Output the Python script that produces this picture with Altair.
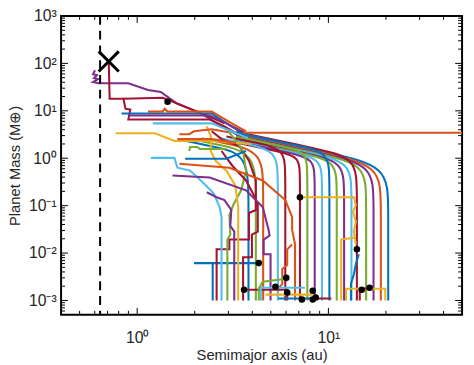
import altair as alt
import pandas as pd

# ---------------- smooth growth tracks (a in au, M in Earth masses) ----------------
s395_a = [20.55, 20.55, 20.55, 10.12, 4.174, 3.296]
s395_m = [0.001, 0.0935, 0.695, 1.267, 2.69, 3.29]
s388_a = [18.8, 18.8, 18.8, 9.71, 4.174, 3.296]
s388_m = [0.001, 0.1054, 0.712, 1.252, 2.56, 3.13]
s380_a = [17.22, 17.22, 17.22, 9.32, 4.174, 3.296]
s380_m = [0.001, 0.1193, 0.733, 1.234, 2.443, 2.987]
s373_a = [15.75, 15.75, 15.75, 8.94, 4.174, 3.296]
s373_m = [0.001, 0.1351, 0.754, 1.222, 2.329, 2.847]
s363_a = [14.09, 14.09, 14.09, 8.38, 4.174, 3.296]
s363_m = [0.001, 0.2033, 1.031, 1.636, 2.958, 3.614]
s358_a = [13.2, 13.2, 13.2, 8.04, 4.174, 3.296]
s358_m = [0.001, 0.1809, 0.834, 1.27, 2.221, 2.714]
s350_a = [12.08, 12.08, 12.08, 7.53, 4.174, 3.296]
s350_m = [0.001, 0.2048, 0.858, 1.282, 2.117, 2.587]
s343_a = [11.06, 11.06, 11.06, 7.23, 4.174, 3.296]
s343_m = [0.001, 0.2318, 0.883, 1.264, 2.018, 2.466]
s335_a = [10.12, 10.12, 10.12, 6.77, 4.174, 3.296]
s335_m = [0.001, 0.3837, 1.329, 1.87, 2.82, 3.445]
s328_a = [9.26, 9.26, 9.26, 6.35, 4.174, 3.296]
s328_m = [0.001, 0.3103, 0.976, 1.345, 1.924, 2.352]
s320_a = [8.48, 8.48, 8.48, 5.95, 4.174, 3.296]
s320_m = [0.001, 0.3513, 1.005, 1.358, 1.834, 2.242]
s313_a = [7.76, 7.76, 7.76, 5.575, 4.174, 3.296]
s313_m = [0.001, 0.4815, 1.377, 1.825, 2.329, 2.847]
s305_a = [7.10, 7.10, 7.10, 5.225, 4.174, 3.296]
s305_m = [0.001, 0.4281, 1.113, 1.445, 1.749, 2.137]
s290_a = [5.95, 5.95, 5.95, 4.174, 3.497, 2.929]
s290_m = [0.001, 0.4747, 1.567, 2.117, 2.46, 2.861]
s283_a = [5.44, 5.44, 5.44, 3.601, 3.107, 2.665]
s283_m = [0.001, 0.3496, 1.465, 2.077, 2.357, 2.689]
s268_a = [4.56, 4.56, 4.56, 2.843, 2.454, 2.18]
s268_m = [0.001, 0.2077, 1.404, 2.097, 2.38, 2.63]
s260_a = [4.174, 4.174, 4.174, 2.603, 2.18, 1.937]
s260_m = [0.001, 0.153, 1.313, 1.961, 2.28, 2.52]
s253_a = [3.82, 3.82, 3.82, 2.527, 2.055, 1.826]
s253_m = [0.001, 0.1127, 1.228, 1.741, 2.077, 2.296]

# ---------------- irregular tracks ----------------
i_blue216_a = [2.483, 2.483, 1.984, 4.323]
i_blue216_m = [0.001, 0.00614, 0.00614, 0.00614]
i_red220_a = [2.603, 2.603, 3.034, 3.034, 3.842, 3.842, 4.174, 4.174, 3.842, 3.415, 2.761, 2.454]
i_red220_m = [0.001, 0.012, 0.012, 0.0193, 0.0193, 0.0702, 0.081, 0.34, 0.884, 1.81, 2.526, 3.70]
i_lb225_a = [2.761, 2.761, 2.696, 2.512, 2.233, 1.892, 1.623, 1.566, 1.18]
i_lb225_m = [0.001, 0.058, 0.0935, 0.1826, 0.2943, 0.548, 0.632, 1.019, 1.019]
i_green231_a = [2.963, 2.963, 3.07, 3.034, 3.18, 3.497, 3.709, 3.58, 3.296, 2.999]
i_green231_m = [0.001, 0.0193, 0.0246, 0.0638, 0.103, 0.211, 0.548, 1.42, 2.30, 3.70]
i_purple238_a = [3.219, 3.219, 3.07, 3.107, 2.86, 2.603, 2.312]
i_purple238_m = [0.001, 0.0283, 0.0377, 0.081, 0.131, 0.1508, 0.1915]
i_yellow242_a = [3.375, 3.375, 3.258, 2.929, 2.572, 2.425, 2.425, 2.312]
i_yellow242_m = [0.001, 0.0935, 0.268, 0.548, 0.884, 1.42, 2.91, 4.70]
i_red247_a = [3.58, 3.58, 3.981, 3.981, 4.272, 4.272, 4.076, 3.709, 3.145, 2.761]
i_red247_m = [0.001, 0.00818, 0.00818, 0.0246, 0.0283, 0.103, 0.166, 0.34, 0.695, 1.42]
i_orange300_a = [6.693, 6.693, 6.46, 6.46, 5.95, 4.533, 3.034, 1.662]
i_orange300_m = [0.001, 0.0152, 0.0312, 0.058, 0.131, 0.34, 0.632, 0.765]
i_orangestep_a = [5.476, 5.74, 5.74, 6.09, 6.09, 6.46]
i_orangestep_m = [0.00177, 0.00225, 0.00461, 0.00558, 0.012, 0.0152]
i_purple275_a = [4.983, 4.983, 4.587, 4.587, 4.924, 4.866, 4.533, 3.709, 2.396, 1.53]
i_purple275_m = [0.001, 0.00944, 0.00944, 0.0193, 0.0234, 0.0312, 0.0935, 0.211, 0.392, 0.432]
i_yellow305_a = [7.10, 13.6, 13.92, 13.44, 13.92, 13.6, 13.92]
i_yellow305_m = [0.1508, 0.1508, 0.103, 0.0737, 0.0457, 0.0283, 0.0152]
i_blue357_a = [13.12, 13.12, 13.6, 13.92, 14.42]
i_blue357_m = [0.001, 0.00225, 0.00363, 0.00586, 0.00944]
i_yellow347_a = [11.66, 11.66, 13.92]
i_yellow347_m = [0.001, 0.0193, 0.02127]
i_yellow352_a = [12.37, 12.37, 19.84, 19.84]
i_yellow352_m = [0.001, 0.00177, 0.00177, 0.001]
i_red366_a = [14.59, 14.59, 16.42]
i_red366_m = [0.001, 0.00169, 0.00186]
i_red248_a = [3.622, 6.09, 6.09]
i_red248_m = [0.00169, 0.00169, 0.001]
i_lb265_a = [4.429, 4.429, 7.532]
i_lb265_m = [0.001, 0.00186, 0.00186]
i_blue283_a = [5.476, 8.577]
i_blue283_m = [0.0011, 0.0011]
i_red320_a = [8.478, 10.36]
i_red320_m = [0.0011, 0.0011]
i_yellow270_a = [4.697, 8.28]
i_yellow270_m = [0.00133, 0.00133]
i_green263_a = [4.323, 4.323, 4.533, 6.02]
i_green263_m = [0.001, 0.00177, 0.00248, 0.00286]

# ---------------- upper (massive) tracks ----------------
u_purple_a = [0.602, 0.588, 0.616, 0.595, 0.624, 0.588, 0.631, 0.899, 1.139, 1.328, 1.442, 1.623, 2.055, 2.396, 2.761, 3.296]
u_purple_m = [71.6, 59.1, 56.4, 48.8, 46.6, 40.4, 38.0, 38.0, 27.5, 25.0, 19.7, 14.1, 9.62, 6.89, 4.70, 3.21]
u_red_a = [0.71, 0.718, 0.848, 0.868, 0.921, 0.899, 2.396, 2.86, 3.497]
u_red_m = [110, 17.9, 17.9, 11.1, 10.6, 6.57, 6.57, 4.70, 2.91]
u_red2_a = [0.848, 1.359, 1.585, 1.937, 2.396, 2.86]
u_red2_m = [17.9, 18.8, 14.8, 10.6, 7.58, 5.43]
u_blue_a = [0.828, 2.454, 3.107, 3.709]
u_blue_m = [8.75, 8.75, 4.70, 3.06]
u_purple2_a = [0.899, 2.396, 2.929, 3.709]
u_purple2_m = [7.95, 7.95, 5.43, 3.365]
u_orange1_a = [1.139, 1.359, 1.392, 1.442, 2.454, 3.0, 3.709]
u_orange1_m = [9.62, 9.62, 11.1, 9.62, 9.62, 5.97, 3.70]
u_lb_a = [1.208, 2.454, 3.107, 3.797]
u_lb_m = [5.43, 5.43, 3.70, 2.65]
u_yellow_a = [0.771, 1.237, 1.566, 2.512, 3.935]
u_yellow_m = [3.365, 3.365, 2.30, 2.30, 1.99]
u_orange2_a = [1.662, 1.87, 1.984, 2.454, 2.999]
u_orange2_m = [3.21, 3.21, 3.70, 4.07, 3.53]
u_orange3_a = [1.623, 2.454, 3.296]
u_orange3_m = [2.526, 2.526, 2.086]
u_green_a = [1.87, 1.892, 2.055, 2.129, 2.929]
u_green_m = [1.42, 1.724, 1.724, 1.567, 1.567]
u_blue2_a = [1.784, 2.929, 3.709]
u_blue2_m = [0.972, 0.972, 1.42]
u_orangelong_a = [3.58, 50]
u_orangelong_m = [3.44, 3.44]

# ---------------- markers ----------------
dots_a = [1.442, 7.10, 14.09, 4.323, 3.622, 5.286, 6.02, 6.09, 7.27, 8.28, 8.28, 8.577, 14.94, 16.42]
dots_m = [15.5, 0.1508, 0.012, 0.00614, 0.00169, 0.00195, 0.003, 0.001466, 0.00105, 0.00161, 0.00105, 0.001154, 0.00169, 0.00186]
cross_a = [0.71]
cross_m = [110]
dashed_a = [0.64]

x_major = [1, 10]
y_major = [1e-3, 1e-2, 1e-1, 1, 10, 100, 1000]
x_minor = [0.5, 0.6, 0.7, 0.8, 0.9, 2, 3, 4, 5, 6, 7, 8, 9, 20, 30, 40]
y_minor = [6e-4, 7e-4, 8e-4, 9e-4] + [k * 10.0 ** e for e in range(-3, 3) for k in range(2, 10)]

# ---------------- styles ----------------
BLUE, ORANGE, YELLOW, PURPLE = "#0072BD", "#D95319", "#EDB120", "#7E2F8E"
GREEN, LBLUE, RED = "#77AC30", "#4DBEEE", "#A2142F"

smooth = {
    "s395": (s395_a, s395_m, BLUE), "s388": (s388_a, s388_m, ORANGE),
    "s380": (s380_a, s380_m, PURPLE), "s373": (s373_a, s373_m, GREEN),
    "s363": (s363_a, s363_m, RED), "s358": (s358_a, s358_m, LBLUE),
    "s350": (s350_a, s350_m, PURPLE), "s343": (s343_a, s343_m, GREEN),
    "s335": (s335_a, s335_m, BLUE), "s328": (s328_a, s328_m, LBLUE),
    "s320": (s320_a, s320_m, PURPLE), "s313": (s313_a, s313_m, GREEN),
    "s305": (s305_a, s305_m, RED), "s290": (s290_a, s290_m, RED),
    "s283": (s283_a, s283_m, LBLUE), "s268": (s268_a, s268_m, ORANGE),
    "s260": (s260_a, s260_m, GREEN), "s253": (s253_a, s253_m, BLUE),
}
linear = {
    "i_blue216": (i_blue216_a, i_blue216_m, BLUE), "i_red220": (i_red220_a, i_red220_m, RED),
    "i_lb225": (i_lb225_a, i_lb225_m, LBLUE), "i_green231": (i_green231_a, i_green231_m, GREEN),
    "i_purple238": (i_purple238_a, i_purple238_m, PURPLE), "i_yellow242": (i_yellow242_a, i_yellow242_m, YELLOW),
    "i_red247": (i_red247_a, i_red247_m, RED), "i_orange300": (i_orange300_a, i_orange300_m, ORANGE),
    "i_orangestep": (i_orangestep_a, i_orangestep_m, ORANGE), "i_purple275": (i_purple275_a, i_purple275_m, PURPLE),
    "i_yellow305": (i_yellow305_a, i_yellow305_m, YELLOW), "i_blue357": (i_blue357_a, i_blue357_m, BLUE),
    "i_yellow347": (i_yellow347_a, i_yellow347_m, YELLOW), "i_yellow352": (i_yellow352_a, i_yellow352_m, YELLOW),
    "i_red366": (i_red366_a, i_red366_m, RED), "i_red248": (i_red248_a, i_red248_m, RED),
    "i_lb265": (i_lb265_a, i_lb265_m, LBLUE), "i_blue283": (i_blue283_a, i_blue283_m, BLUE),
    "i_red320": (i_red320_a, i_red320_m, RED), "i_yellow270": (i_yellow270_a, i_yellow270_m, YELLOW),
    "i_green263": (i_green263_a, i_green263_m, GREEN),
    "u_purple": (u_purple_a, u_purple_m, PURPLE), "u_red": (u_red_a, u_red_m, RED),
    "u_red2": (u_red2_a, u_red2_m, RED), "u_blue": (u_blue_a, u_blue_m, BLUE),
    "u_purple2": (u_purple2_a, u_purple2_m, PURPLE), "u_orange1": (u_orange1_a, u_orange1_m, ORANGE),
    "u_lb": (u_lb_a, u_lb_m, LBLUE), "u_yellow": (u_yellow_a, u_yellow_m, YELLOW),
    "u_orange2": (u_orange2_a, u_orange2_m, ORANGE), "u_orange3": (u_orange3_a, u_orange3_m, ORANGE),
    "u_green": (u_green_a, u_green_m, GREEN), "u_blue2": (u_blue2_a, u_blue2_m, BLUE),
    "u_orangelong": (u_orangelong_a, u_orangelong_m, ORANGE),
}


def frame(tracks):
    rows = []
    for name, (aa, mm, _) in tracks.items():
        for i, (x, y) in enumerate(zip(aa, mm)):
            rows.append({"track": name, "order": i, "a": x, "m": y})
    return pd.DataFrame(rows)


df_smooth = frame(smooth)
df_linear = frame(linear)
all_tracks = {**smooth, **linear}
color_scale = alt.Scale(domain=list(all_tracks.keys()), range=[v[2] for v in all_tracks.values()])

W, H = 408, 304
FONT = "Liberation Sans"
TXT = "#262626"
XT = "Semimajor axis (au)"
YT = "Planet Mass (M⊕)"
xs = alt.Scale(type="log", domain=[0.4, 50], nice=False)
ys = alt.Scale(type="log", domain=[5e-4, 1e3], nice=False)

sup = ("'10' + replace(replace(replace(replace(replace('' + round(log(datum.value)/LN10),"
       " '-', '⁻'), '0', '⁰'), '1', '¹'), '2', '²'), '3', '³')")

x_axis = alt.Axis(values=x_major, labelExpr=sup, ticks=False, domain=False, grid=False,
                  labelPadding=15, titlePadding=3, labelFontSize=16, titleFontSize=15,
                  labelFont=FONT, titleFont=FONT, labelColor=TXT, titleColor=TXT, titleFontWeight="normal")
y_axis = alt.Axis(values=y_major, labelExpr=sup, ticks=False, domain=False, grid=False,
                  labelPadding=5, titlePadding=6, labelFontSize=16, titleFontSize=15,
                  labelFont=FONT, titleFont=FONT, labelColor=TXT, titleColor=TXT, titleFontWeight="normal")


def X(field):
    return alt.X(field, scale=xs, axis=x_axis, title=XT)


def Y(field):
    return alt.Y(field, scale=ys, axis=y_axis, title=YT)


smooth_layer = alt.Chart(df_smooth).mark_line(interpolate="basis", strokeWidth=2.1, clip=True).encode(
    x=X("a:Q"), y=Y("m:Q"),
    color=alt.Color("track:N", scale=color_scale, legend=None),
    order="order:Q",
)
linear_layer = alt.Chart(df_linear).mark_line(strokeWidth=2.1, clip=True).encode(
    x=X("a:Q"), y=Y("m:Q"),
    color=alt.Color("track:N", scale=color_scale, legend=None),
    order="order:Q",
)
dashed = alt.Chart(pd.DataFrame({"a": dashed_a})).mark_rule(
    color="black", strokeWidth=2, strokeDash=[9, 6]).encode(x=X("a:Q"))
dots = alt.Chart(pd.DataFrame({"a": dots_a, "m": dots_m})).mark_circle(
    color="black", size=45, opacity=1).encode(x=X("a:Q"), y=Y("m:Q"))
cross = alt.Chart(pd.DataFrame({"a": cross_a, "m": cross_m})).mark_point(
    shape="M-1,-1L1,1M-1,1L1,-1", size=420, strokeWidth=3, color="black", filled=False, opacity=1).encode(
    x=X("a:Q"), y=Y("m:Q"))


def yticks(vals, length):
    d = pd.DataFrame({"m": vals})
    left = alt.Chart(d).mark_rule(color="black", strokeWidth=1).encode(
        y=Y("m:Q"), x=alt.value(0), x2=alt.value(length))
    right = alt.Chart(d).mark_rule(color="black", strokeWidth=1).encode(
        y=Y("m:Q"), x=alt.value(W), x2=alt.value(W - length))
    return [left, right]


def xticks(vals, length):
    d = pd.DataFrame({"a": vals})
    bottom = alt.Chart(d).mark_rule(color="black", strokeWidth=1).encode(
        x=X("a:Q"), y=alt.value(H), y2=alt.value(H - length))
    top = alt.Chart(d).mark_rule(color="black", strokeWidth=1).encode(
        x=X("a:Q"), y=alt.value(0), y2=alt.value(length))
    return [bottom, top]


layers = [smooth_layer, linear_layer, dashed, dots, cross]
layers += yticks(y_major, 7) + yticks(y_minor, 4) + xticks(x_major, 7) + xticks(x_minor, 4)

chart = alt.layer(*layers).properties(
    width=W, height=H,
    padding={"left": 54, "top": 5, "right": 4, "bottom": 48},
    autosize=alt.AutoSizeParams(type="none"),
    background="white",
).configure_view(stroke="black", strokeWidth=2)

chart.save("out.html", embed_options={"renderer": "svg", "actions": False})
